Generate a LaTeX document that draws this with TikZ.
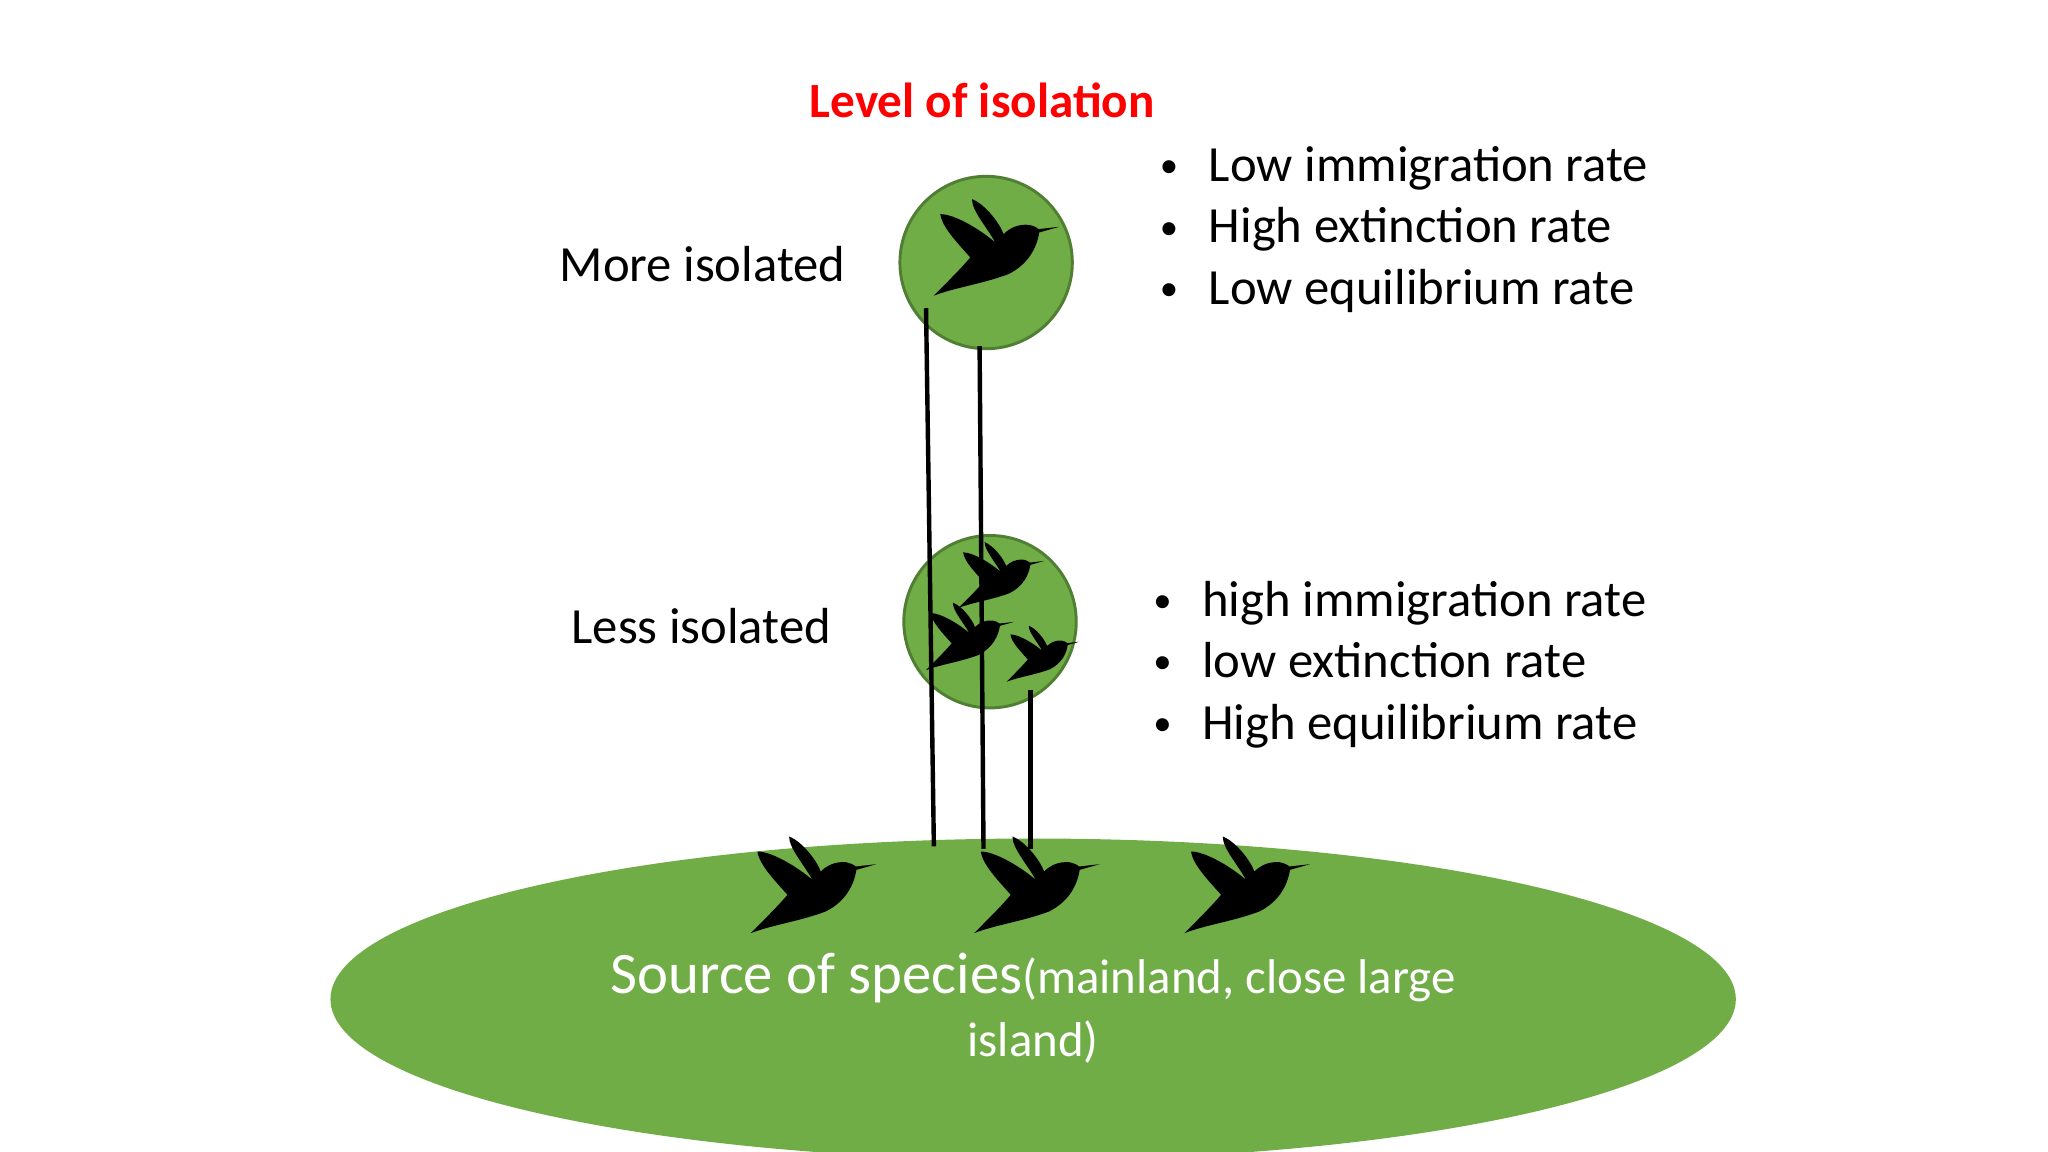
\documentclass[tikz,border=0pt]{standalone}
\usepackage{fontspec}
\setmainfont{Carlito}
\definecolor{gfill}{HTML}{70AD47}
\definecolor{gline}{HTML}{507E32}
\tikzset{
  isl/.style={draw=gline,line width=0.8pt,fill=gfill},
  lbl/.style={font=\fontsize{13.8}{16}\selectfont,anchor=west,inner sep=0pt},
  bl/.style={font=\fontsize{13.8}{16}\selectfont,anchor=base west,inner sep=0pt},
  bul/.style={font=\fontsize{10}{12}\selectfont,anchor=base,inner sep=0pt},
  conn/.style={line width=1.2pt,black},
  bird/.pic={\fill[black,xscale=0.255,yscale=0.255,shift={(-200,-220)}]
   (15,355) .. controls (60,310) and (100,270) .. (125,240)
   .. controls (90,200) and (40,150) .. (35,110)
   .. controls (80,110) and (160,160) .. (200,195)
   .. controls (175,150) and (130,100) .. (130,65)
   .. controls (170,80) and (215,140) .. (225,170)
   .. controls (245,150) and (270,140) .. (300,142)
   .. controls (315,145) and (325,150) .. (330,155) -- (392,148) -- (332,165)
   .. controls (325,210) and (300,260) .. (240,290)
   .. controls (160,320) and (80,330) .. (15,355) -- cycle;}
}
\begin{document}
\begin{tikzpicture}[x=0.0125cm,y=-0.0125cm]
\useasboundingbox (0,0) rectangle (1568,882);
\begin{scope}
\clip (0,0) rectangle (1568,882);
\fill[gfill] (791,765) ellipse [x radius=538,y radius=123];
\end{scope}
\node[isl,circle,minimum size=132*0.0125cm,inner sep=0pt] (top) at (755,201) {};
\node[isl,circle,minimum size=132*0.0125cm,inner sep=0pt] (mid) at (758,476) {};
\coordinate (a1) at (709,236); \coordinate (a2) at (715,648);
\coordinate (b1) at (750,265); \coordinate (b2) at (753,650);
\coordinate (c1) at (789,528); \coordinate (c2) at (789,650);
\draw[conn] (a1) -- (a2);
\draw[conn] (b1) -- (b2);
\draw[conn] (c1) -- (c2);
\pic at (762,192) {bird};
\pic[scale=0.68] at (766,442) {bird};
\pic[scale=0.7] at (742,489) {bird};
\pic[scale=0.58] at (798,502) {bird};
\pic at (622,680) {bird};
\pic at (793,680) {bird};
\pic at (954,680) {bird};
\node[font=\bfseries\fontsize{13.4}{15}\selectfont,text=red] (title) at (752,77) {Level of isolation};
\node[lbl] (more) at (428,202) {More isolated};
\node[lbl] (less) at (437,479) {Less isolated};
\foreach \t/\y/\n in {Low immigration rate/139/t1,High extinction rate/186/t2,Low equilibrium rate/233/t3}{
  \node[bl] (\n) at (925,\y) {\t};
  \node[bul] at (895,\y-3) {•};}
\foreach \t/\y/\n in {high immigration rate/472/m1,low extinction rate/519/m2,High equilibrium rate/566/m3}{
  \node[bl] (\n) at (920,\y) {\t};
  \node[bul] at (890,\y-3) {•};}
\node[text=white,align=center,inner sep=0pt] (src) at (791,772)
 {{\fontsize{16}{18}\selectfont Source of species}{\fontsize{13.3}{18}\selectfont(mainland, close large}\\[4pt]{\fontsize{13.3}{16}\selectfont island)}};
\end{tikzpicture}
\end{document}
